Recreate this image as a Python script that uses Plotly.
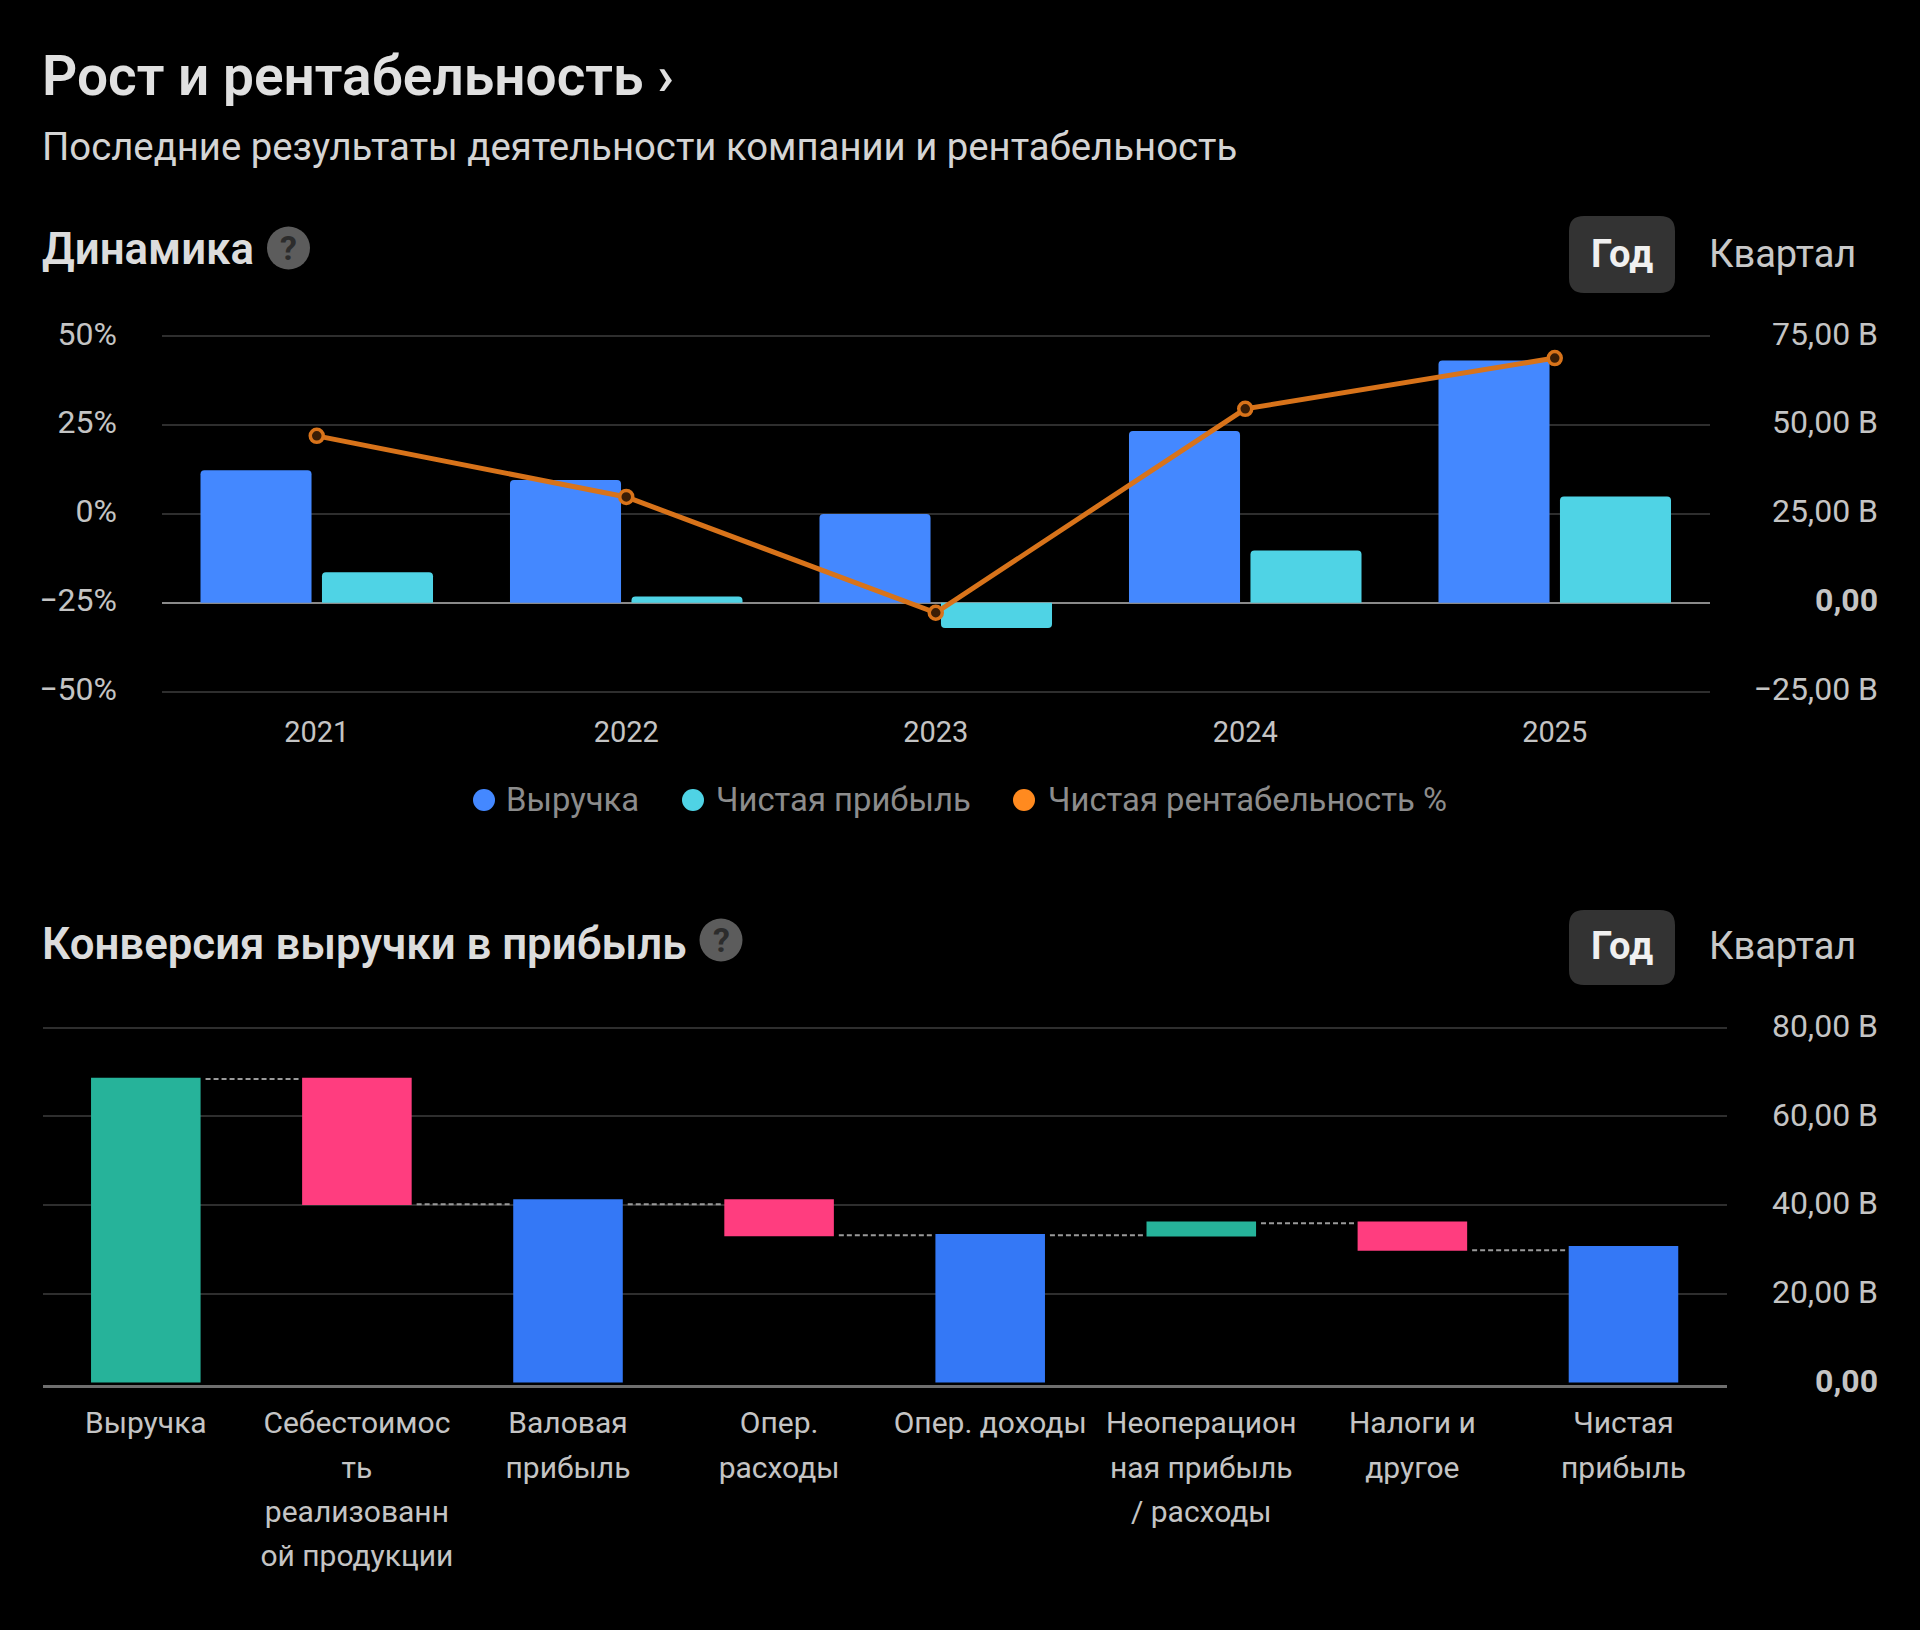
import plotly.graph_objects as go

PAGE_W = 1920
PAGE_H = 1630

years = ['2021', '2022', '2023', '2024', '2025']
revenue = [37.3, 34.6, 25.0, 48.4, 68.2]
net_income = [8.6, 1.8, -7.1, 14.7, 29.9]
net_margin = [22.0, 4.8, -27.8, 29.6, 43.9]

money_ticks = [-25, 0, 25, 50, 75]
money_labels = ['−25,00 B', '<b>0,00</b>', '25,00 B', '50,00 B', '75,00 B']
pct_ticks = [-50, -25, 0, 25, 50]
pct_labels = ['−50%', '−25%', '0%', '25%', '50%']

steps = [
	['Выручка'],
	['Себестоимос', 'ть', 'реализованн', 'ой продукции'],
	['Валовая', 'прибыль'],
	['Опер.', 'расходы'],
	['Опер. доходы'],
	['Неоперацион', 'ная прибыль', '/ расходы'],
	['Налоги и', 'другое'],
	['Чистая', 'прибыль'],
]
step_bottom = [0, 40.0, 0, 33.0, 0, 32.9, 29.7, 0]
step_top = [68.7, 68.7, 41.3, 41.3, 33.5, 36.3, 36.3, 30.8]
step_color = ['#26b39a', '#ff3d7f', '#3478f6', '#ff3d7f', '#3478f6', '#26b39a', '#ff3d7f', '#3478f6']
connector_level = [68.4, 40.2, 40.2, 33.2, 33.2, 35.9, 29.8]

conv_ticks = [0, 20, 40, 60, 80]
conv_labels = ['<b>0,00</b>', '20,00 B', '40,00 B', '60,00 B', '80,00 B']

legend_names = ['Выручка', 'Чистая прибыль', 'Чистая рентабельность %']
legend_colors = ['#4488ff', '#4fd3e5', '#ff8a1f']
legend_circle_x = [484, 693, 1024]
legend_text_x = [505, 715, 1047]


def px_x(x):
	return x / PAGE_W


def px_y(y):
	return 1 - y / PAGE_H


FONT = 'Roboto'
GRID = '#2e2e2e'
TICK = '#c4c4c4'

fig = go.Figure()

fig.add_trace(go.Bar(x=years, y=revenue, name=legend_names[0], xaxis='x', yaxis='y',
	marker=dict(color='#4488ff', cornerradius=4, line_width=0)))
fig.add_trace(go.Bar(x=years, y=net_income, name=legend_names[1], xaxis='x', yaxis='y',
	marker=dict(color='#4fd3e5', cornerradius=4, line_width=0)))
fig.add_trace(go.Scatter(x=years, y=net_margin, name=legend_names[2], xaxis='x', yaxis='y2',
	mode='lines+markers',
	line=dict(color='#d8731a', width=5),
	marker=dict(size=13, color='#3a1d05', line=dict(color='#d8731a', width=3.5))))

# waterfall: bars float on their bottom value, connectors are one dashed line
fig.add_trace(go.Bar(x=list(range(8)),
	y=[t - b for t, b in zip(step_top, step_bottom)],
	base=step_bottom, xaxis='x2', yaxis='y3', width=0.519,
	marker=dict(color=step_color, line_width=0)))

conn_x, conn_y = [], []
for i, level in enumerate(connector_level):
	conn_x += [i + 0.283, i + 0.73, None]
	conn_y += [level, level, None]
fig.add_trace(go.Scatter(x=conn_x, y=conn_y, xaxis='x2', yaxis='y3', mode='lines',
	line=dict(color='#9a9a9a', width=2, dash='5px,3px')))

shapes = []
annotations = []


def text(x, y, s, size, color, weight=400, anchor='left'):
	annotations.append(dict(
		xref='paper', yref='paper', x=px_x(x), y=px_y(y), text=s, showarrow=False,
		xanchor=anchor, yanchor='middle', borderpad=0,
		font=dict(family=FONT, size=size, color=color, weight=weight),
	))


def circle(cx, cy, d, color):
	shapes.append(dict(type='circle', xref='paper', yref='paper', line_width=0, fillcolor=color,
		x0=px_x(cx - d / 2), x1=px_x(cx + d / 2), y0=px_y(cy + d / 2), y1=px_y(cy - d / 2)))


def button(y0, y1):
	x0, x1, r = 1569, 1675, 15
	path = (f'M {px_x(x0 + r)} {px_y(y0)} L {px_x(x1 - r)} {px_y(y0)} '
		f'Q {px_x(x1)} {px_y(y0)} {px_x(x1)} {px_y(y0 + r)} L {px_x(x1)} {px_y(y1 - r)} '
		f'Q {px_x(x1)} {px_y(y1)} {px_x(x1 - r)} {px_y(y1)} L {px_x(x0 + r)} {px_y(y1)} '
		f'Q {px_x(x0)} {px_y(y1)} {px_x(x0)} {px_y(y1 - r)} L {px_x(x0)} {px_y(y0 + r)} '
		f'Q {px_x(x0)} {px_y(y0)} {px_x(x0 + r)} {px_y(y0)} Z')
	shapes.append(dict(type='path', xref='paper', yref='paper', path=path, fillcolor='#333333', line_width=0))


text(41, 76, 'Рост и рентабельность ›', 55, '#e0e0e0', weight=600)
text(41, 146, 'Последние результаты деятельности компании и рентабельность', 38.3, '#d4d4d4')

text(41, 249, 'Динамика', 43.8, '#dcdcdc', weight=600)
circle(288.5, 248, 43, '#5c5c5c')
text(288.5, 248, '?', 34, '#2c2c2c', weight=700, anchor='center')
button(216, 293)
text(1622, 254, 'Год', 38, '#f0f0f0', weight=700, anchor='center')
text(1708, 254, 'Квартал', 38, '#c8c8c8')

for name, color, cx, tx in zip(legend_names, legend_colors, legend_circle_x, legend_text_x):
	circle(cx, 800, 22, color)
	text(tx, 800, name, 32.8, '#8c8c8c')

text(41, 944, 'Конверсия выручки в прибыль', 43.8, '#dcdcdc', weight=600)
circle(721, 940, 43, '#5c5c5c')
text(721, 940, '?', 34, '#2c2c2c', weight=700, anchor='center')
button(910, 985)
text(1622, 946, 'Год', 38, '#f0f0f0', weight=700, anchor='center')
text(1708, 946, 'Квартал', 38, '#c8c8c8')

value_font = dict(family=FONT, size=32, color=TICK)

fig.update_layout(
	width=PAGE_W,
	height=PAGE_H,
	margin=dict(l=0, r=0, t=0, b=0),
	paper_bgcolor='#000000',
	plot_bgcolor='#000000',
	showlegend=False,
	barmode='group',
	bargap=0.215,
	bargroupgap=0.086,
	shapes=shapes,
	annotations=annotations,
	xaxis=dict(
		domain=[px_x(162), px_x(1709.5)], anchor='y2', type='category', range=[-0.5, 4.5], automargin=False,
		showgrid=False, showline=False, zeroline=False, ticklen=0,
		tickfont=dict(family=FONT, size=29, color=TICK), ticklabelstandoff=18,
	),
	# ranges run a little past the end ticks so the outer gridlines still get drawn
	yaxis=dict(
		domain=[px_y(693.6), px_y(334.4)], anchor='free', position=px_x(1878), side='left',
		range=[-25.56, 75.56], tickvals=money_ticks, ticktext=money_labels, tickfont=value_font, automargin=False,
		showgrid=True, gridcolor=GRID, gridwidth=2,
		zeroline=True, zerolinecolor='#8a8a8a', zerolinewidth=2, ticklen=0, ticklabelshift=-3,
	),
	yaxis2=dict(
		domain=[px_y(693.6), px_y(334.4)], overlaying='y', side='left', anchor='x',
		range=[-50.56, 50.56], tickvals=pct_ticks, ticktext=pct_labels, tickfont=value_font, automargin=False,
		showgrid=False, zeroline=False, ticklen=0, ticklabelstandoff=44, ticklabelshift=-3,
	),
	xaxis2=dict(
		domain=[px_x(42.9), px_x(1726.7)], anchor='y3', range=[-0.4875, 7.489], automargin=False,
		tickvals=list(range(8)),
		# the outer font size sets the line spacing of the wrapped labels
		ticktext=['<br>'.join(f'<span style="font-size:30px">{line}</span>' for line in s) for s in steps],
		tickangle=0, tickfont=dict(family=FONT, size=34, color=TICK),
		showgrid=False, zeroline=False, ticklen=0, ticklabelstandoff=5,
		showline=True, linecolor='#6e6e6e', linewidth=3,
	),
	yaxis3=dict(
		domain=[px_y(1384.6), px_y(1025.5)], anchor='free', position=px_x(1878), side='left',
		range=[-0.45, 80.47], tickvals=conv_ticks, ticktext=conv_labels, tickfont=value_font, automargin=False,
		showgrid=True, gridcolor=GRID, gridwidth=2,
		zeroline=True, zerolinecolor='rgba(0,0,0,0)', ticklen=0, ticklabelshift=-2,
	),
)

fig.write_html('out.html', config={'displayModeBar': False}, post_script="document.body.style.margin='0';")
